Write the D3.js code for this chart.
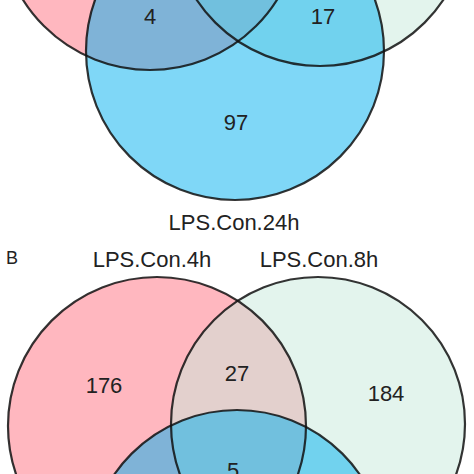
<!DOCTYPE html>
<html>
<head>
<meta charset="utf-8">
<script src="https://cdn.jsdelivr.net/npm/d3@7"></script>
<style>
  body { margin: 0; background: #fff; }
  text { font-family: "Liberation Sans", Arial, sans-serif; fill: #222; }
</style>
</head>
<body>
<div id="chart"></div>
<script>
// Panel A (top, cropped) and panel B (bottom, cropped) Venn circles
const setNames = ["LPS.Con.4h", "LPS.Con.8h", "LPS.Con.24h"];
const setColors = ["#ff6f80", "#c7e9db", "#00b0f0"];

// circle layout in diagram units: [cx, cy, r]
const circlesA = [[150, -80, 150], [320, -82, 148], [235, 51, 149]];
const circlesB = [[157, 426, 149], [318, 424, 147], [237, 559, 149]];

// region counts and their positions
const countsA = ["4", "17", "97"];
const countPosA = [[150, 16], [323, 16], [236, 122]];
const countsB = ["176", "27", "184", "5"];
const countPosB = [[104, 385], [237, 373], [386, 393], [233, 470]];

const width = 474, height = 474;

const svg = d3.select("#chart")
    .append("svg")
    .attr("width", width)
    .attr("height", height);

const x = d3.scaleLinear().domain([0, 474]).range([0, width]);
const y = d3.scaleLinear().domain([0, 474]).range([0, height]);

function drawVenn(circles, counts, pos) {
    const g = svg.append("g");
    g.selectAll("circle.fill")
        .data(circles)
        .enter()
        .append("circle")
        .attr("cx", d => x(d[0]))
        .attr("cy", d => y(d[1]))
        .attr("r", d => x(d[2]) - x(0))
        .attr("fill", (d, i) => setColors[i])
        .attr("fill-opacity", 0.5)
        .attr("stroke", "none");
    g.selectAll("circle.line")
        .data(circles)
        .enter()
        .append("circle")
        .attr("cx", d => x(d[0]))
        .attr("cy", d => y(d[1]))
        .attr("r", d => x(d[2]) - x(0))
        .attr("fill", "none")
        .attr("stroke", "#111")
        .attr("stroke-opacity", 0.85)
        .attr("stroke-width", 2.2);
    g.selectAll("text")
        .data(counts)
        .enter()
        .append("text")
        .attr("x", (d, i) => x(pos[i][0]))
        .attr("y", (d, i) => y(pos[i][1]))
        .attr("text-anchor", "middle")
        .attr("dominant-baseline", "central")
        .style("font-size", "22px")
        .text(d => d);
}

drawVenn(circlesA, countsA, countPosA);
drawVenn(circlesB, countsB, countPosB);

// set labels
const labels = [
    { text: setNames[2], x: 234, y: 222 },
    { text: setNames[0], x: 152, y: 259 },
    { text: setNames[1], x: 319, y: 259 }
];
svg.selectAll("text.setlabel")
    .data(labels)
    .enter()
    .append("text")
    .attr("class", "setlabel")
    .attr("x", d => x(d.x))
    .attr("y", d => y(d.y))
    .attr("text-anchor", "middle")
    .attr("dominant-baseline", "central")
    .style("font-size", "22px")
    .text(d => d.text);

svg.append("text")
    .attr("x", x(12))
    .attr("y", y(258))
    .attr("text-anchor", "middle")
    .attr("dominant-baseline", "central")
    .style("font-size", "18px")
    .text("B");
</script>
</body>
</html>
